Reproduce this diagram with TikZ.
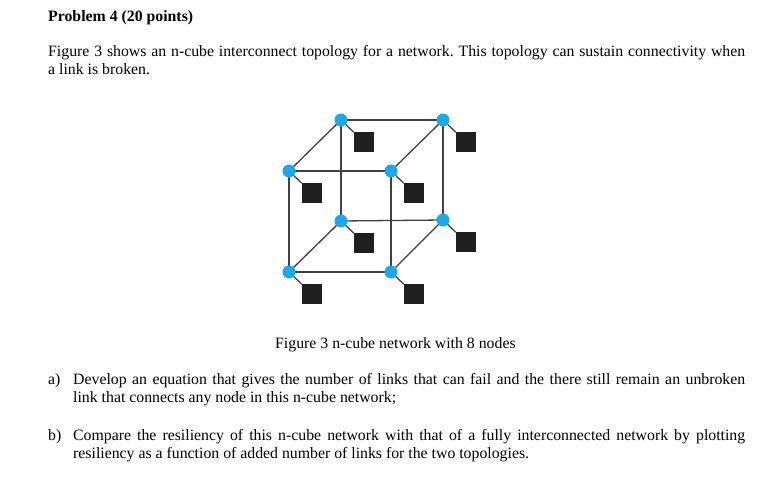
\documentclass[tikz,border=0pt]{standalone}
\usepackage{fontspec}
\setmainfont{Liberation Serif}
\frenchspacing
\definecolor{nodeblue}{RGB}{25,170,235}
\begin{document}
\begin{tikzpicture}[x=1pt,y=-1pt,
  txt/.style={anchor=base west,inner sep=0pt,font=\fontsize{15.8}{18}\selectfont},
  dot/.style={circle,fill=nodeblue,inner sep=0pt,minimum size=13pt},
  sq/.style={rectangle,fill=black!88,inner sep=0pt,minimum size=20pt},
  edge/.style={draw=black!75,line width=1.3pt}]
\useasboundingbox (0,0) rectangle (764,477);
\node[txt,font=\fontsize{15.8}{18}\selectfont\bfseries] (t) at (48,21) {Problem 4 (20 points)};
\node[txt] (l1) at (48,56) {\makebox[697pt][s]{Figure 3 shows an n-cube interconnect topology for a network. This topology can sustain connectivity when}};
\node[txt] (l2) at (48,74) {a link is broken.};
\node[txt] (cap) at (275,348) {Figure 3 n-cube network with 8 nodes};
\node[txt] (a1) at (48,384) {a)};
\node[txt] (a2) at (73,384) {\makebox[672pt][s]{Develop an equation that gives the number of links that can fail and the there still remain an unbroken}};
\node[txt] (a3) at (73,402) {link that connects any node in this n-cube network;};
\node[txt] (b1) at (48,440) {b)};
\node[txt] (b2) at (73,440) {\makebox[672pt][s]{Compare the resiliency of this n-cube network with that of a fully interconnected network by plotting}};
\node[txt] (b3) at (73,458) {resiliency as a function of added number of links for the two topologies.};
% cube
\foreach \n/\x/\y in {btl/341/120,btr/443/120,ftl/289/171,ftr/391/171,bbl/341/221,bbr/443/220,fbl/289/272,fbr/391/272}{
  \coordinate (\n) at (\x,\y);
  \node[sq] (s\n) at (\x+23,\y+22) {};
}
\foreach \a/\b in {btl/btr,btl/ftl,btr/ftr,ftl/ftr,btl/bbl,btr/bbr,ftl/fbl,ftr/fbr,bbl/bbr,bbl/fbl,bbr/fbr,fbl/fbr}
  \draw[edge] (\a) -- (\b);
\foreach \n in {btl,btr,ftl,ftr,bbl,bbr,fbl,fbr}{
  \draw[edge] (\n) -- (s\n);
  \node[dot] (d\n) at (\n) {};
}
\end{tikzpicture}
\end{document}
